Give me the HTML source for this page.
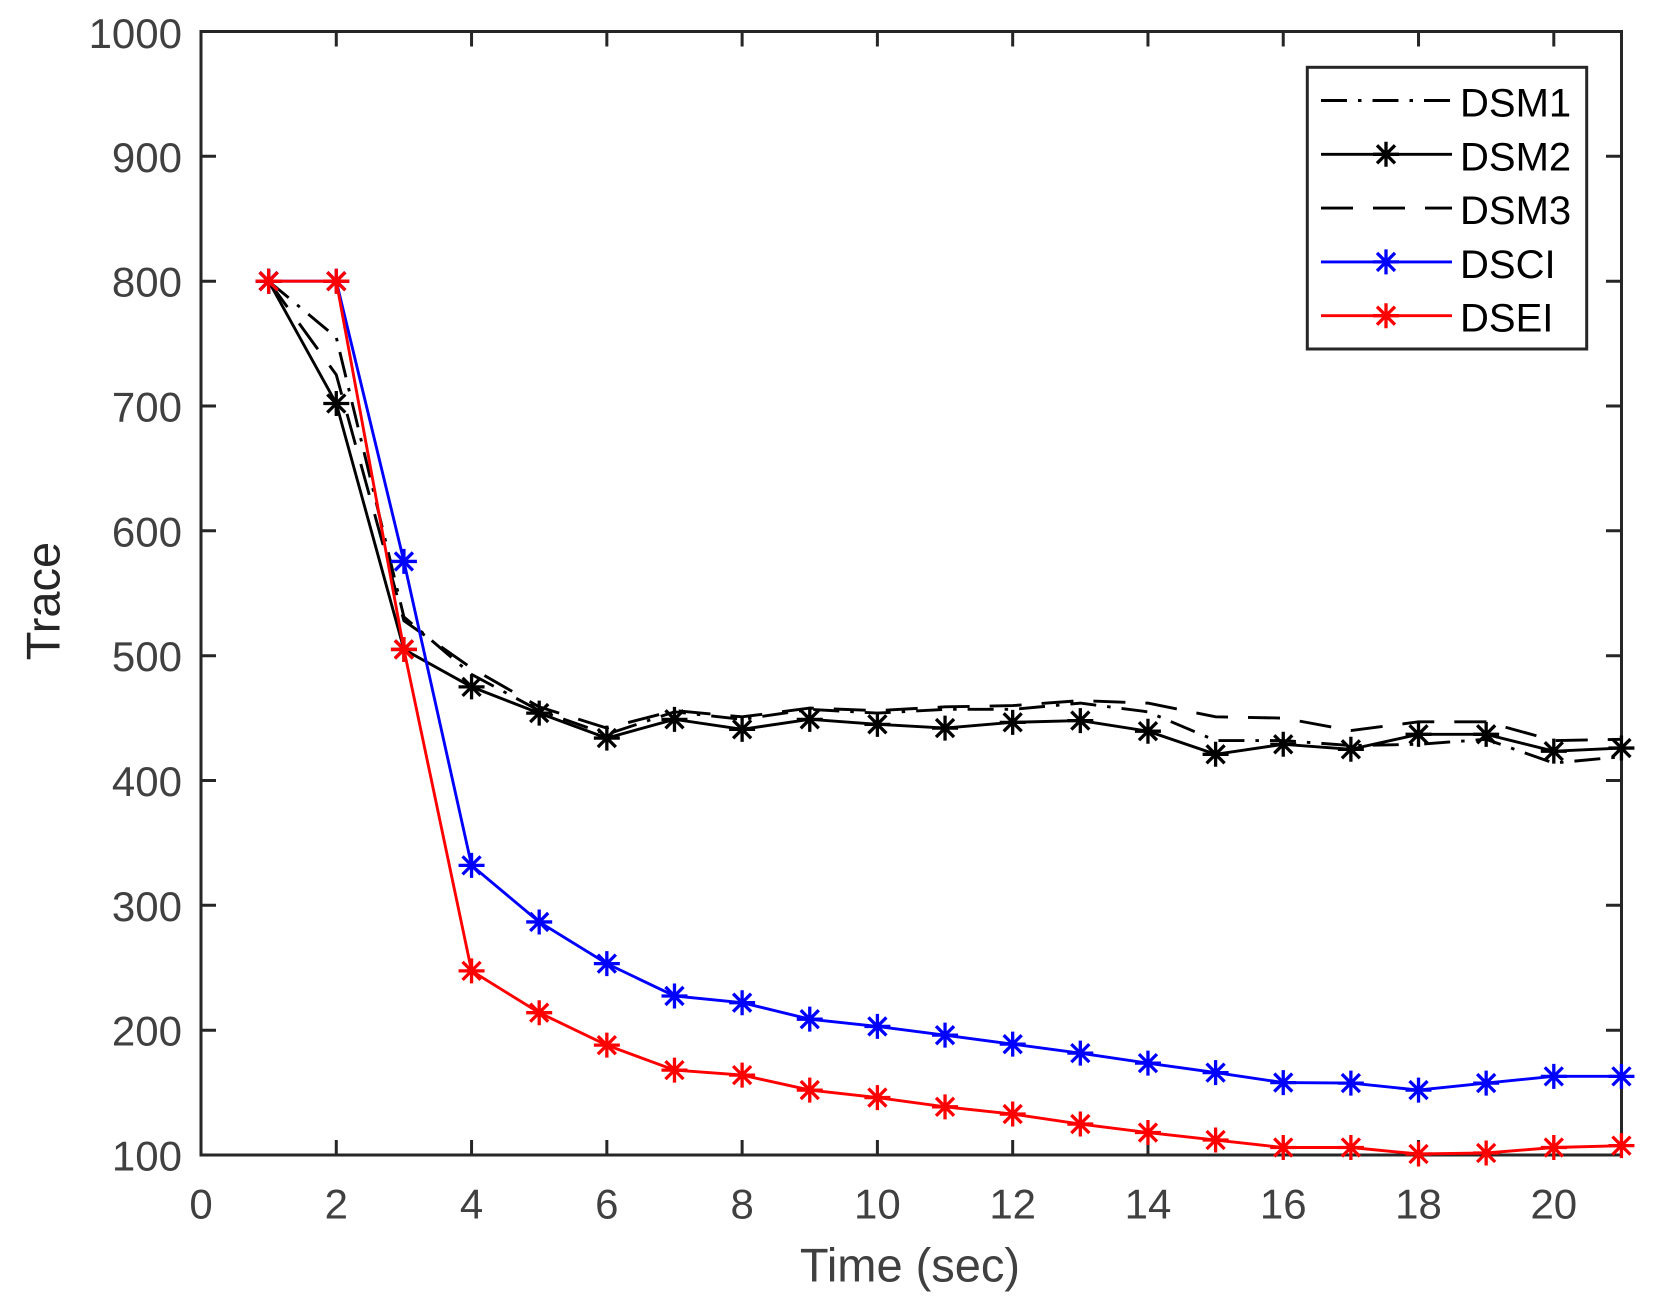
<!DOCTYPE html>
<html>
<head>
<meta charset="utf-8">
<style>
html,body{margin:0;padding:0;background:#fff;}
svg{display:block;}
text{font-family:"Liberation Sans",Arial,sans-serif;}
</style>
</head>
<body>
<svg width="1658" height="1307" viewBox="0 0 1658 1307" xmlns="http://www.w3.org/2000/svg">
<defs>
<path id="st" d="M-13,0H13M0,-12.5V12.5M-9,-9L9,9M-9,9L9,-9" fill="none" stroke-width="3.3"/>
</defs>
<rect x="0" y="0" width="1658" height="1307" fill="#fff"/>

<!-- axes box -->
<g stroke="#262626" stroke-width="3" fill="none">
<rect x="201" y="31.5" width="1420.5" height="1123.5"/>
<path d="M201,31.5H216M201,156.3H216M201,281.2H216M201,406H216M201,530.8H216M201,655.7H216M201,780.5H216M201,905.3H216M201,1030.2H216
M1621.5,31.5H1606M1621.5,156.3H1606M1621.5,281.2H1606M1621.5,406H1606M1621.5,530.8H1606M1621.5,655.7H1606M1621.5,780.5H1606M1621.5,905.3H1606M1621.5,1030.2H1606M1621.5,1155H1606"/>
<path d="M336.28,1155V1140M471.56,1155V1140M606.84,1155V1140M742.12,1155V1140M877.4,1155V1140M1012.68,1155V1140M1147.96,1155V1140M1283.24,1155V1140M1418.52,1155V1140M1553.8,1155V1140
M336.28,31.5V46.5M471.56,31.5V46.5M606.84,31.5V46.5M742.12,31.5V46.5M877.4,31.5V46.5M1012.68,31.5V46.5M1147.96,31.5V46.5M1283.24,31.5V46.5M1418.52,31.5V46.5M1553.8,31.5V46.5"/>
</g>

<!-- y tick labels -->
<g fill="#404040" font-size="42" text-anchor="end">
<text x="182" y="48">1000</text>
<text x="182" y="171.8">900</text>
<text x="182" y="296.7">800</text>
<text x="182" y="421.5">700</text>
<text x="182" y="546.3">600</text>
<text x="182" y="671.2">500</text>
<text x="182" y="796">400</text>
<text x="182" y="920.8">300</text>
<text x="182" y="1045.7">200</text>
<text x="182" y="1170.5">100</text>
</g>
<!-- x tick labels -->
<g fill="#404040" font-size="42" text-anchor="middle">
<text x="201" y="1218.5">0</text>
<text x="336.28" y="1218.5">2</text>
<text x="471.56" y="1218.5">4</text>
<text x="606.84" y="1218.5">6</text>
<text x="742.12" y="1218.5">8</text>
<text x="877.4" y="1218.5">10</text>
<text x="1012.68" y="1218.5">12</text>
<text x="1147.96" y="1218.5">14</text>
<text x="1283.24" y="1218.5">16</text>
<text x="1418.52" y="1218.5">18</text>
<text x="1553.8" y="1218.5">20</text>
</g>
<text x="910" y="1281.5" font-size="47" fill="#404040" text-anchor="middle">Time (sec)</text>
<text transform="translate(59.5,601) rotate(-90)" font-size="47" fill="#262626" text-anchor="middle">Trace</text>

<!-- DSM1 dash-dot -->
<polyline fill="none" stroke="#000" stroke-width="2.9" stroke-dasharray="26 11 3.5 11" points="268.64,281.19 336.28,337.36 403.92,616.98 471.56,674.4 539.2,710.61 606.84,734.32 674.48,711.85 742.12,719.34 809.76,709.36 877.4,713.1 945.04,709.36 1012.68,709.36 1080.32,703.12 1147.96,711.85 1215.6,740.56 1283.24,740.56 1350.88,745.56 1418.52,744.31 1486.16,739.32 1553.8,763.03 1621.44,756.79"/>
<!-- DSM2 solid with stars -->
<polyline fill="none" stroke="#000" stroke-width="2.9" points="268.64,281.19 336.28,403.52 403.92,649.44 471.56,686.89 539.2,713.1 606.84,738.07 674.48,719.34 742.12,729.33 809.76,719.34 877.4,724.34 945.04,728.08 1012.68,722.34 1080.32,720.59 1147.96,731.2 1215.6,754.3 1283.24,744.31 1350.88,749.3 1418.52,734.32 1486.16,734.32 1553.8,751.17 1621.44,748.05"/>
<g stroke="#000">
<use href="#st" x="268.64" y="281.19"/><use href="#st" x="336.28" y="403.52"/><use href="#st" x="403.92" y="649.44"/><use href="#st" x="471.56" y="686.89"/><use href="#st" x="539.2" y="713.1"/><use href="#st" x="606.84" y="738.07"/><use href="#st" x="674.48" y="719.34"/><use href="#st" x="742.12" y="729.33"/><use href="#st" x="809.76" y="719.34"/><use href="#st" x="877.4" y="724.34"/><use href="#st" x="945.04" y="728.08"/><use href="#st" x="1012.68" y="722.34"/><use href="#st" x="1080.32" y="720.59"/><use href="#st" x="1147.96" y="731.2"/><use href="#st" x="1215.6" y="754.3"/><use href="#st" x="1283.24" y="744.31"/><use href="#st" x="1350.88" y="749.3"/><use href="#st" x="1418.52" y="734.32"/><use href="#st" x="1486.16" y="734.32"/><use href="#st" x="1553.8" y="751.17"/><use href="#st" x="1621.44" y="748.05"/>
</g>
<!-- DSM3 dashed -->
<polyline fill="none" stroke="#000" stroke-width="2.9" stroke-dasharray="32 20" points="268.64,281.19 336.28,374.81 403.92,620.73 471.56,668.16 539.2,706.86 606.84,728.08 674.48,710.61 742.12,716.85 809.76,708.11 877.4,710.61 945.04,706.86 1012.68,705.61 1080.32,700.62 1147.96,703.12 1215.6,716.85 1283.24,718.09 1350.88,730.58 1418.52,721.84 1486.16,721.84 1553.8,740.56 1621.44,739.32"/>

<!-- DSCI blue -->
<polyline fill="none" stroke="#0000ff" stroke-width="2.9" points="268.64,281.19 336.28,281.19 403.92,561.43 471.56,865.39 539.2,921.94 606.84,963.64 674.48,995.97 742.12,1002.71 809.76,1019.18 877.4,1026.43 945.04,1035.16 1012.68,1044.15 1080.32,1053.14 1147.96,1063.13 1215.6,1072.61 1283.24,1082.6 1350.88,1083.1 1418.52,1090.09 1486.16,1083.1 1553.8,1076.36 1621.44,1076.36"/>
<g stroke="#0000ff">
<use href="#st" x="268.64" y="281.19"/><use href="#st" x="336.28" y="281.19"/><use href="#st" x="403.92" y="561.43"/><use href="#st" x="471.56" y="865.39"/><use href="#st" x="539.2" y="921.94"/><use href="#st" x="606.84" y="963.64"/><use href="#st" x="674.48" y="995.97"/><use href="#st" x="742.12" y="1002.71"/><use href="#st" x="809.76" y="1019.18"/><use href="#st" x="877.4" y="1026.43"/><use href="#st" x="945.04" y="1035.16"/><use href="#st" x="1012.68" y="1044.15"/><use href="#st" x="1080.32" y="1053.14"/><use href="#st" x="1147.96" y="1063.13"/><use href="#st" x="1215.6" y="1072.61"/><use href="#st" x="1283.24" y="1082.6"/><use href="#st" x="1350.88" y="1083.1"/><use href="#st" x="1418.52" y="1090.09"/><use href="#st" x="1486.16" y="1083.1"/><use href="#st" x="1553.8" y="1076.36"/><use href="#st" x="1621.44" y="1076.36"/>
</g>

<!-- DSEI red -->
<polyline fill="none" stroke="#ff0000" stroke-width="2.9" points="268.64,281.19 336.28,281.19 403.92,649.44 471.56,970.88 539.2,1012.69 606.84,1045.15 674.48,1070.12 742.12,1075.11 809.76,1090.09 877.4,1097.58 945.04,1106.82 1012.68,1114.06 1080.32,1124.04 1147.96,1132.53 1215.6,1140.02 1283.24,1147.51 1350.88,1147.51 1418.52,1154 1486.16,1153 1553.8,1147.51 1621.44,1145.64"/>
<g stroke="#ff0000">
<use href="#st" x="268.64" y="281.19"/><use href="#st" x="336.28" y="281.19"/><use href="#st" x="403.92" y="649.44"/><use href="#st" x="471.56" y="970.88"/><use href="#st" x="539.2" y="1012.69"/><use href="#st" x="606.84" y="1045.15"/><use href="#st" x="674.48" y="1070.12"/><use href="#st" x="742.12" y="1075.11"/><use href="#st" x="809.76" y="1090.09"/><use href="#st" x="877.4" y="1097.58"/><use href="#st" x="945.04" y="1106.82"/><use href="#st" x="1012.68" y="1114.06"/><use href="#st" x="1080.32" y="1124.04"/><use href="#st" x="1147.96" y="1132.53"/><use href="#st" x="1215.6" y="1140.02"/><use href="#st" x="1283.24" y="1147.51"/><use href="#st" x="1350.88" y="1147.51"/><use href="#st" x="1418.52" y="1154"/><use href="#st" x="1486.16" y="1153"/><use href="#st" x="1553.8" y="1147.51"/><use href="#st" x="1621.44" y="1145.64"/>
</g>

<!-- legend -->
<rect x="1307.3" y="67.3" width="279.4" height="281.7" fill="#fff" stroke="#262626" stroke-width="3"/>
<g stroke-width="2.9" fill="none">
<path d="M1321,100.5H1452" stroke="#000" stroke-dasharray="26 11 3.5 11"/>
<path d="M1321,154.3H1452" stroke="#000"/>
<path d="M1321,208.1H1452" stroke="#000" stroke-dasharray="32 20"/>
<path d="M1321,261.9H1452" stroke="#0000ff"/>
<path d="M1321,315.7H1452" stroke="#ff0000"/>
</g>
<use href="#st" x="1386" y="154.3" stroke="#000"/>
<use href="#st" x="1386" y="261.9" stroke="#0000ff"/>
<use href="#st" x="1386" y="315.7" stroke="#ff0000"/>
<g fill="#000" font-size="40">
<text x="1460" y="116.5">DSM1</text>
<text x="1460" y="170.3">DSM2</text>
<text x="1460" y="224.1">DSM3</text>
<text x="1460" y="277.9">DSCI</text>
<text x="1460" y="331.7">DSEI</text>
</g>
</svg>
</body>
</html>
